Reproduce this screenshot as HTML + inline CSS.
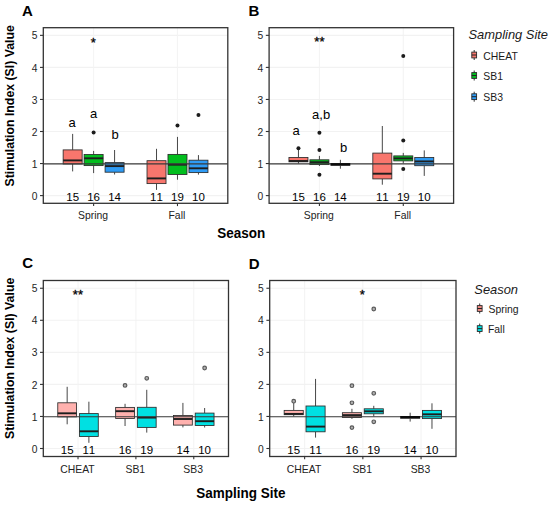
<!DOCTYPE html>
<html><head><meta charset="utf-8"><style>
html,body{margin:0;padding:0;background:#fff;}
svg{display:block;}
text{font-family:"Liberation Sans", sans-serif;}
.tk{font-size:10.4px;fill:#222;}
.tky{font-size:10.3px;fill:#262626;}
.num{font-size:11.5px;fill:#000;font-kerning:none;font-feature-settings:'kern' 0;}
.let{font-size:13px;fill:#000;}
.star{font-size:13px;fill:#000;stroke:#000;stroke-width:0.3px;}
.tag{font-size:15px;font-weight:bold;fill:#000;}
.ttl{font-size:13.5px;font-weight:bold;fill:#000;}
.ytl{font-size:12.3px;font-weight:bold;fill:#000;}
.lgt{font-size:12.9px;font-style:italic;fill:#1a1a1a;}
.lg{font-size:10.4px;fill:#1a1a1a;}
</style></head><body>
<svg width="550" height="505" viewBox="0 0 550 505">
<rect width="550" height="505" fill="#fff"/>
<line x1="43.3" y1="195.60" x2="227.8" y2="195.60" stroke="#F2F2F2" stroke-width="1.1"/>
<line x1="43.3" y1="163.55" x2="227.8" y2="163.55" stroke="#F2F2F2" stroke-width="1.1"/>
<line x1="43.3" y1="131.50" x2="227.8" y2="131.50" stroke="#F2F2F2" stroke-width="1.1"/>
<line x1="43.3" y1="99.45" x2="227.8" y2="99.45" stroke="#F2F2F2" stroke-width="1.1"/>
<line x1="43.3" y1="67.40" x2="227.8" y2="67.40" stroke="#F2F2F2" stroke-width="1.1"/>
<line x1="43.3" y1="35.35" x2="227.8" y2="35.35" stroke="#F2F2F2" stroke-width="1.1"/>
<line x1="93.62" y1="27.7" x2="93.62" y2="203.3" stroke="#F2F2F2" stroke-width="0.9"/>
<line x1="177.48" y1="27.7" x2="177.48" y2="203.3" stroke="#F2F2F2" stroke-width="0.9"/>
<line x1="72.65" y1="133.90" x2="72.65" y2="149.90" stroke="#474747" stroke-width="1"/>
<line x1="72.65" y1="164.00" x2="72.65" y2="171.40" stroke="#474747" stroke-width="1"/>
<rect x="63.15" y="149.90" width="19.00" height="14.10" fill="#F8766D" stroke="#2b2b2b" stroke-width="0.85"/>
<line x1="63.15" y1="160.40" x2="82.15" y2="160.40" stroke="#1e1e1e" stroke-width="1.9"/>
<line x1="93.62" y1="150.90" x2="93.62" y2="154.50" stroke="#474747" stroke-width="1"/>
<line x1="93.62" y1="165.60" x2="93.62" y2="173.10" stroke="#474747" stroke-width="1"/>
<rect x="84.12" y="154.50" width="19.00" height="11.10" fill="#02BE1E" stroke="#2b2b2b" stroke-width="0.85"/>
<line x1="84.12" y1="158.30" x2="103.12" y2="158.30" stroke="#1e1e1e" stroke-width="1.9"/>
<circle cx="93.62" cy="132.50" r="2.0" fill="#1c1c1c"/>
<line x1="114.58" y1="150.00" x2="114.58" y2="162.60" stroke="#474747" stroke-width="1"/>
<line x1="114.58" y1="172.20" x2="114.58" y2="174.50" stroke="#474747" stroke-width="1"/>
<rect x="105.08" y="162.60" width="19.00" height="9.60" fill="#2E9BF5" stroke="#2b2b2b" stroke-width="0.85"/>
<line x1="105.08" y1="166.10" x2="124.08" y2="166.10" stroke="#1e1e1e" stroke-width="1.9"/>
<line x1="156.52" y1="148.80" x2="156.52" y2="160.70" stroke="#474747" stroke-width="1"/>
<line x1="156.52" y1="183.60" x2="156.52" y2="189.90" stroke="#474747" stroke-width="1"/>
<rect x="147.02" y="160.70" width="19.00" height="22.90" fill="#F8766D" stroke="#2b2b2b" stroke-width="0.85"/>
<line x1="147.02" y1="178.40" x2="166.02" y2="178.40" stroke="#1e1e1e" stroke-width="1.9"/>
<line x1="177.48" y1="136.90" x2="177.48" y2="154.40" stroke="#474747" stroke-width="1"/>
<line x1="177.48" y1="174.50" x2="177.48" y2="179.70" stroke="#474747" stroke-width="1"/>
<rect x="167.98" y="154.40" width="19.00" height="20.10" fill="#02BE1E" stroke="#2b2b2b" stroke-width="0.85"/>
<line x1="167.98" y1="164.70" x2="186.98" y2="164.70" stroke="#1e1e1e" stroke-width="1.9"/>
<circle cx="177.48" cy="125.40" r="2.0" fill="#1c1c1c"/>
<line x1="198.45" y1="155.10" x2="198.45" y2="160.20" stroke="#474747" stroke-width="1"/>
<line x1="198.45" y1="172.60" x2="198.45" y2="174.60" stroke="#474747" stroke-width="1"/>
<rect x="188.95" y="160.20" width="19.00" height="12.40" fill="#2E9BF5" stroke="#2b2b2b" stroke-width="0.85"/>
<line x1="188.95" y1="168.30" x2="207.95" y2="168.30" stroke="#1e1e1e" stroke-width="1.9"/>
<circle cx="198.45" cy="115.10" r="2.0" fill="#1c1c1c"/>
<line x1="43.3" y1="163.90" x2="227.8" y2="163.90" stroke="#3a3a3a" stroke-width="1.1"/>
<rect x="43.3" y="27.7" width="184.50" height="175.60" fill="none" stroke="#333333" stroke-width="1.3"/>
<line x1="40.00" y1="195.60" x2="43.3" y2="195.60" stroke="#333333" stroke-width="1.1"/>
<text transform="translate(37.40,199.70) scale(1,1.12)" class="tky" text-anchor="end">0</text>
<line x1="40.00" y1="163.55" x2="43.3" y2="163.55" stroke="#333333" stroke-width="1.1"/>
<text transform="translate(37.40,167.65) scale(1,1.12)" class="tky" text-anchor="end">1</text>
<line x1="40.00" y1="131.50" x2="43.3" y2="131.50" stroke="#333333" stroke-width="1.1"/>
<text transform="translate(37.40,135.60) scale(1,1.12)" class="tky" text-anchor="end">2</text>
<line x1="40.00" y1="99.45" x2="43.3" y2="99.45" stroke="#333333" stroke-width="1.1"/>
<text transform="translate(37.40,103.55) scale(1,1.12)" class="tky" text-anchor="end">3</text>
<line x1="40.00" y1="67.40" x2="43.3" y2="67.40" stroke="#333333" stroke-width="1.1"/>
<text transform="translate(37.40,71.50) scale(1,1.12)" class="tky" text-anchor="end">4</text>
<line x1="40.00" y1="35.35" x2="43.3" y2="35.35" stroke="#333333" stroke-width="1.1"/>
<text transform="translate(37.40,39.45) scale(1,1.12)" class="tky" text-anchor="end">5</text>
<line x1="93.62" y1="203.3" x2="93.62" y2="206.10" stroke="#333333" stroke-width="1.1"/>
<text transform="translate(93.02,219.40) scale(1,1.05)" class="tk" text-anchor="middle">Spring</text>
<line x1="177.48" y1="203.3" x2="177.48" y2="206.10" stroke="#333333" stroke-width="1.1"/>
<text transform="translate(176.88,219.40) scale(1,1.05)" class="tk" text-anchor="middle">Fall</text>
<line x1="269.1" y1="195.60" x2="453.6" y2="195.60" stroke="#F2F2F2" stroke-width="1.1"/>
<line x1="269.1" y1="163.55" x2="453.6" y2="163.55" stroke="#F2F2F2" stroke-width="1.1"/>
<line x1="269.1" y1="131.50" x2="453.6" y2="131.50" stroke="#F2F2F2" stroke-width="1.1"/>
<line x1="269.1" y1="99.45" x2="453.6" y2="99.45" stroke="#F2F2F2" stroke-width="1.1"/>
<line x1="269.1" y1="67.40" x2="453.6" y2="67.40" stroke="#F2F2F2" stroke-width="1.1"/>
<line x1="269.1" y1="35.35" x2="453.6" y2="35.35" stroke="#F2F2F2" stroke-width="1.1"/>
<line x1="319.42" y1="27.7" x2="319.42" y2="203.3" stroke="#F2F2F2" stroke-width="0.9"/>
<line x1="403.28" y1="27.7" x2="403.28" y2="203.3" stroke="#F2F2F2" stroke-width="0.9"/>
<line x1="298.45" y1="149.00" x2="298.45" y2="157.50" stroke="#474747" stroke-width="1"/>
<line x1="298.45" y1="161.80" x2="298.45" y2="163.50" stroke="#474747" stroke-width="1"/>
<rect x="288.95" y="157.50" width="19.00" height="4.30" fill="#F8766D" stroke="#2b2b2b" stroke-width="0.85"/>
<line x1="288.95" y1="161.00" x2="307.95" y2="161.00" stroke="#1e1e1e" stroke-width="1.9"/>
<circle cx="298.45" cy="148.30" r="2.0" fill="#1c1c1c"/>
<line x1="319.42" y1="155.90" x2="319.42" y2="159.80" stroke="#474747" stroke-width="1"/>
<line x1="319.42" y1="164.60" x2="319.42" y2="166.00" stroke="#474747" stroke-width="1"/>
<rect x="309.92" y="159.80" width="19.00" height="4.80" fill="#02BE1E" stroke="#2b2b2b" stroke-width="0.85"/>
<line x1="309.92" y1="162.20" x2="328.92" y2="162.20" stroke="#1e1e1e" stroke-width="1.9"/>
<circle cx="319.42" cy="132.80" r="2.0" fill="#1c1c1c"/>
<circle cx="319.42" cy="149.90" r="2.0" fill="#1c1c1c"/>
<circle cx="319.42" cy="174.70" r="2.0" fill="#1c1c1c"/>
<line x1="340.38" y1="159.80" x2="340.38" y2="163.10" stroke="#474747" stroke-width="1"/>
<line x1="340.38" y1="165.80" x2="340.38" y2="168.70" stroke="#474747" stroke-width="1"/>
<line x1="382.32" y1="126.00" x2="382.32" y2="153.10" stroke="#474747" stroke-width="1"/>
<line x1="382.32" y1="178.90" x2="382.32" y2="184.70" stroke="#474747" stroke-width="1"/>
<rect x="372.82" y="153.10" width="19.00" height="25.80" fill="#F8766D" stroke="#2b2b2b" stroke-width="0.85"/>
<line x1="372.82" y1="173.70" x2="391.82" y2="173.70" stroke="#1e1e1e" stroke-width="1.9"/>
<line x1="403.28" y1="152.90" x2="403.28" y2="155.90" stroke="#474747" stroke-width="1"/>
<line x1="403.28" y1="160.90" x2="403.28" y2="163.50" stroke="#474747" stroke-width="1"/>
<rect x="393.78" y="155.90" width="19.00" height="5.00" fill="#02BE1E" stroke="#2b2b2b" stroke-width="0.85"/>
<line x1="393.78" y1="158.40" x2="412.78" y2="158.40" stroke="#1e1e1e" stroke-width="1.9"/>
<circle cx="403.28" cy="56.10" r="2.0" fill="#1c1c1c"/>
<circle cx="403.28" cy="140.40" r="2.0" fill="#1c1c1c"/>
<circle cx="403.28" cy="168.90" r="2.0" fill="#1c1c1c"/>
<line x1="424.25" y1="150.40" x2="424.25" y2="157.50" stroke="#474747" stroke-width="1"/>
<line x1="424.25" y1="165.70" x2="424.25" y2="175.90" stroke="#474747" stroke-width="1"/>
<rect x="414.75" y="157.50" width="19.00" height="8.20" fill="#2E9BF5" stroke="#2b2b2b" stroke-width="0.85"/>
<line x1="414.75" y1="161.40" x2="433.75" y2="161.40" stroke="#1e1e1e" stroke-width="1.9"/>
<line x1="269.1" y1="163.90" x2="453.6" y2="163.90" stroke="#3a3a3a" stroke-width="1.1"/>
<rect x="330.48" y="163.10" width="19.80" height="2.70" fill="#0a0a0a"/>
<rect x="269.1" y="27.7" width="184.50" height="175.60" fill="none" stroke="#333333" stroke-width="1.3"/>
<line x1="265.80" y1="195.60" x2="269.1" y2="195.60" stroke="#333333" stroke-width="1.1"/>
<text transform="translate(263.20,199.70) scale(1,1.12)" class="tky" text-anchor="end">0</text>
<line x1="265.80" y1="163.55" x2="269.1" y2="163.55" stroke="#333333" stroke-width="1.1"/>
<text transform="translate(263.20,167.65) scale(1,1.12)" class="tky" text-anchor="end">1</text>
<line x1="265.80" y1="131.50" x2="269.1" y2="131.50" stroke="#333333" stroke-width="1.1"/>
<text transform="translate(263.20,135.60) scale(1,1.12)" class="tky" text-anchor="end">2</text>
<line x1="265.80" y1="99.45" x2="269.1" y2="99.45" stroke="#333333" stroke-width="1.1"/>
<text transform="translate(263.20,103.55) scale(1,1.12)" class="tky" text-anchor="end">3</text>
<line x1="265.80" y1="67.40" x2="269.1" y2="67.40" stroke="#333333" stroke-width="1.1"/>
<text transform="translate(263.20,71.50) scale(1,1.12)" class="tky" text-anchor="end">4</text>
<line x1="265.80" y1="35.35" x2="269.1" y2="35.35" stroke="#333333" stroke-width="1.1"/>
<text transform="translate(263.20,39.45) scale(1,1.12)" class="tky" text-anchor="end">5</text>
<line x1="319.42" y1="203.3" x2="319.42" y2="206.10" stroke="#333333" stroke-width="1.1"/>
<text transform="translate(318.82,219.40) scale(1,1.05)" class="tk" text-anchor="middle">Spring</text>
<line x1="403.28" y1="203.3" x2="403.28" y2="206.10" stroke="#333333" stroke-width="1.1"/>
<text transform="translate(402.68,219.40) scale(1,1.05)" class="tk" text-anchor="middle">Fall</text>
<line x1="43.3" y1="448.50" x2="228.5" y2="448.50" stroke="#F2F2F2" stroke-width="1.1"/>
<line x1="43.3" y1="416.45" x2="228.5" y2="416.45" stroke="#F2F2F2" stroke-width="1.1"/>
<line x1="43.3" y1="384.40" x2="228.5" y2="384.40" stroke="#F2F2F2" stroke-width="1.1"/>
<line x1="43.3" y1="352.35" x2="228.5" y2="352.35" stroke="#F2F2F2" stroke-width="1.1"/>
<line x1="43.3" y1="320.30" x2="228.5" y2="320.30" stroke="#F2F2F2" stroke-width="1.1"/>
<line x1="43.3" y1="288.25" x2="228.5" y2="288.25" stroke="#F2F2F2" stroke-width="1.1"/>
<line x1="78.02" y1="280.5" x2="78.02" y2="456.5" stroke="#F2F2F2" stroke-width="0.9"/>
<line x1="135.90" y1="280.5" x2="135.90" y2="456.5" stroke="#F2F2F2" stroke-width="0.9"/>
<line x1="193.77" y1="280.5" x2="193.77" y2="456.5" stroke="#F2F2F2" stroke-width="0.9"/>
<line x1="67.17" y1="386.80" x2="67.17" y2="402.80" stroke="#474747" stroke-width="1"/>
<line x1="67.17" y1="416.90" x2="67.17" y2="424.30" stroke="#474747" stroke-width="1"/>
<rect x="57.77" y="402.80" width="18.80" height="14.10" fill="#FFB1AE" stroke="#2b2b2b" stroke-width="0.85"/>
<line x1="57.77" y1="413.30" x2="76.57" y2="413.30" stroke="#1e1e1e" stroke-width="1.9"/>
<line x1="88.88" y1="401.70" x2="88.88" y2="413.60" stroke="#474747" stroke-width="1"/>
<line x1="88.88" y1="436.50" x2="88.88" y2="442.80" stroke="#474747" stroke-width="1"/>
<rect x="79.48" y="413.60" width="18.80" height="22.90" fill="#00E0E2" stroke="#2b2b2b" stroke-width="0.85"/>
<line x1="79.48" y1="431.30" x2="98.28" y2="431.30" stroke="#1e1e1e" stroke-width="1.9"/>
<line x1="125.05" y1="403.80" x2="125.05" y2="407.40" stroke="#474747" stroke-width="1"/>
<line x1="125.05" y1="418.50" x2="125.05" y2="426.00" stroke="#474747" stroke-width="1"/>
<rect x="115.65" y="407.40" width="18.80" height="11.10" fill="#FFB1AE" stroke="#2b2b2b" stroke-width="0.85"/>
<line x1="115.65" y1="411.20" x2="134.45" y2="411.20" stroke="#1e1e1e" stroke-width="1.9"/>
<circle cx="125.05" cy="385.40" r="1.8" fill="#b0b0b0" stroke="#5a5a5a" stroke-width="1.2"/>
<line x1="146.75" y1="389.80" x2="146.75" y2="407.30" stroke="#474747" stroke-width="1"/>
<line x1="146.75" y1="427.40" x2="146.75" y2="432.60" stroke="#474747" stroke-width="1"/>
<rect x="137.35" y="407.30" width="18.80" height="20.10" fill="#00E0E2" stroke="#2b2b2b" stroke-width="0.85"/>
<line x1="137.35" y1="417.60" x2="156.15" y2="417.60" stroke="#1e1e1e" stroke-width="1.9"/>
<circle cx="146.75" cy="378.30" r="1.8" fill="#b0b0b0" stroke="#5a5a5a" stroke-width="1.2"/>
<line x1="182.92" y1="402.90" x2="182.92" y2="415.50" stroke="#474747" stroke-width="1"/>
<line x1="182.92" y1="425.10" x2="182.92" y2="427.40" stroke="#474747" stroke-width="1"/>
<rect x="173.52" y="415.50" width="18.80" height="9.60" fill="#FFB1AE" stroke="#2b2b2b" stroke-width="0.85"/>
<line x1="173.52" y1="419.00" x2="192.32" y2="419.00" stroke="#1e1e1e" stroke-width="1.9"/>
<line x1="204.63" y1="408.00" x2="204.63" y2="413.10" stroke="#474747" stroke-width="1"/>
<line x1="204.63" y1="425.50" x2="204.63" y2="427.50" stroke="#474747" stroke-width="1"/>
<rect x="195.23" y="413.10" width="18.80" height="12.40" fill="#00E0E2" stroke="#2b2b2b" stroke-width="0.85"/>
<line x1="195.23" y1="421.20" x2="214.03" y2="421.20" stroke="#1e1e1e" stroke-width="1.9"/>
<circle cx="204.63" cy="368.00" r="1.8" fill="#b0b0b0" stroke="#5a5a5a" stroke-width="1.2"/>
<line x1="43.3" y1="416.80" x2="228.5" y2="416.80" stroke="#3a3a3a" stroke-width="1.1"/>
<rect x="43.3" y="280.5" width="185.20" height="176.00" fill="none" stroke="#333333" stroke-width="1.3"/>
<line x1="40.00" y1="448.50" x2="43.3" y2="448.50" stroke="#333333" stroke-width="1.1"/>
<text transform="translate(37.40,452.60) scale(1,1.12)" class="tky" text-anchor="end">0</text>
<line x1="40.00" y1="416.45" x2="43.3" y2="416.45" stroke="#333333" stroke-width="1.1"/>
<text transform="translate(37.40,420.55) scale(1,1.12)" class="tky" text-anchor="end">1</text>
<line x1="40.00" y1="384.40" x2="43.3" y2="384.40" stroke="#333333" stroke-width="1.1"/>
<text transform="translate(37.40,388.50) scale(1,1.12)" class="tky" text-anchor="end">2</text>
<line x1="40.00" y1="352.35" x2="43.3" y2="352.35" stroke="#333333" stroke-width="1.1"/>
<text transform="translate(37.40,356.45) scale(1,1.12)" class="tky" text-anchor="end">3</text>
<line x1="40.00" y1="320.30" x2="43.3" y2="320.30" stroke="#333333" stroke-width="1.1"/>
<text transform="translate(37.40,324.40) scale(1,1.12)" class="tky" text-anchor="end">4</text>
<line x1="40.00" y1="288.25" x2="43.3" y2="288.25" stroke="#333333" stroke-width="1.1"/>
<text transform="translate(37.40,292.35) scale(1,1.12)" class="tky" text-anchor="end">5</text>
<line x1="78.02" y1="456.5" x2="78.02" y2="459.30" stroke="#333333" stroke-width="1.1"/>
<text transform="translate(77.42,472.60) scale(1,1.05)" class="tk" text-anchor="middle">CHEAT</text>
<line x1="135.90" y1="456.5" x2="135.90" y2="459.30" stroke="#333333" stroke-width="1.1"/>
<text transform="translate(135.30,472.60) scale(1,1.05)" class="tk" text-anchor="middle">SB1</text>
<line x1="193.77" y1="456.5" x2="193.77" y2="459.30" stroke="#333333" stroke-width="1.1"/>
<text transform="translate(193.17,472.60) scale(1,1.05)" class="tk" text-anchor="middle">SB3</text>
<line x1="269.7" y1="448.50" x2="456.0" y2="448.50" stroke="#F2F2F2" stroke-width="1.1"/>
<line x1="269.7" y1="416.45" x2="456.0" y2="416.45" stroke="#F2F2F2" stroke-width="1.1"/>
<line x1="269.7" y1="384.40" x2="456.0" y2="384.40" stroke="#F2F2F2" stroke-width="1.1"/>
<line x1="269.7" y1="352.35" x2="456.0" y2="352.35" stroke="#F2F2F2" stroke-width="1.1"/>
<line x1="269.7" y1="320.30" x2="456.0" y2="320.30" stroke="#F2F2F2" stroke-width="1.1"/>
<line x1="269.7" y1="288.25" x2="456.0" y2="288.25" stroke="#F2F2F2" stroke-width="1.1"/>
<line x1="304.63" y1="280.5" x2="304.63" y2="456.5" stroke="#F2F2F2" stroke-width="0.9"/>
<line x1="362.85" y1="280.5" x2="362.85" y2="456.5" stroke="#F2F2F2" stroke-width="0.9"/>
<line x1="421.07" y1="280.5" x2="421.07" y2="456.5" stroke="#F2F2F2" stroke-width="0.9"/>
<line x1="293.72" y1="401.90" x2="293.72" y2="410.40" stroke="#474747" stroke-width="1"/>
<line x1="293.72" y1="414.70" x2="293.72" y2="416.40" stroke="#474747" stroke-width="1"/>
<rect x="284.17" y="410.40" width="19.10" height="4.30" fill="#FFB1AE" stroke="#2b2b2b" stroke-width="0.85"/>
<line x1="284.17" y1="413.90" x2="303.27" y2="413.90" stroke="#1e1e1e" stroke-width="1.9"/>
<circle cx="293.72" cy="401.20" r="1.8" fill="#b0b0b0" stroke="#5a5a5a" stroke-width="1.2"/>
<line x1="315.55" y1="378.90" x2="315.55" y2="406.00" stroke="#474747" stroke-width="1"/>
<line x1="315.55" y1="431.80" x2="315.55" y2="437.60" stroke="#474747" stroke-width="1"/>
<rect x="306.00" y="406.00" width="19.10" height="25.80" fill="#00E0E2" stroke="#2b2b2b" stroke-width="0.85"/>
<line x1="306.00" y1="426.60" x2="325.10" y2="426.60" stroke="#1e1e1e" stroke-width="1.9"/>
<line x1="351.93" y1="408.80" x2="351.93" y2="412.70" stroke="#474747" stroke-width="1"/>
<line x1="351.93" y1="417.50" x2="351.93" y2="418.90" stroke="#474747" stroke-width="1"/>
<rect x="342.38" y="412.70" width="19.10" height="4.80" fill="#FFB1AE" stroke="#2b2b2b" stroke-width="0.85"/>
<line x1="342.38" y1="415.10" x2="361.48" y2="415.10" stroke="#1e1e1e" stroke-width="1.9"/>
<circle cx="351.93" cy="385.70" r="1.8" fill="#b0b0b0" stroke="#5a5a5a" stroke-width="1.2"/>
<circle cx="351.93" cy="402.80" r="1.8" fill="#b0b0b0" stroke="#5a5a5a" stroke-width="1.2"/>
<circle cx="351.93" cy="427.60" r="1.8" fill="#b0b0b0" stroke="#5a5a5a" stroke-width="1.2"/>
<line x1="373.77" y1="405.80" x2="373.77" y2="408.80" stroke="#474747" stroke-width="1"/>
<line x1="373.77" y1="413.80" x2="373.77" y2="416.40" stroke="#474747" stroke-width="1"/>
<rect x="364.22" y="408.80" width="19.10" height="5.00" fill="#00E0E2" stroke="#2b2b2b" stroke-width="0.85"/>
<line x1="364.22" y1="411.30" x2="383.32" y2="411.30" stroke="#1e1e1e" stroke-width="1.9"/>
<circle cx="373.77" cy="309.00" r="1.8" fill="#b0b0b0" stroke="#5a5a5a" stroke-width="1.2"/>
<circle cx="373.77" cy="393.30" r="1.8" fill="#b0b0b0" stroke="#5a5a5a" stroke-width="1.2"/>
<circle cx="373.77" cy="421.80" r="1.8" fill="#b0b0b0" stroke="#5a5a5a" stroke-width="1.2"/>
<line x1="410.15" y1="412.70" x2="410.15" y2="416.00" stroke="#474747" stroke-width="1"/>
<line x1="410.15" y1="418.70" x2="410.15" y2="421.60" stroke="#474747" stroke-width="1"/>
<line x1="431.98" y1="403.30" x2="431.98" y2="410.40" stroke="#474747" stroke-width="1"/>
<line x1="431.98" y1="418.60" x2="431.98" y2="428.80" stroke="#474747" stroke-width="1"/>
<rect x="422.43" y="410.40" width="19.10" height="8.20" fill="#00E0E2" stroke="#2b2b2b" stroke-width="0.85"/>
<line x1="422.43" y1="414.30" x2="441.53" y2="414.30" stroke="#1e1e1e" stroke-width="1.9"/>
<line x1="269.7" y1="416.80" x2="456.0" y2="416.80" stroke="#3a3a3a" stroke-width="1.1"/>
<rect x="400.20" y="416.00" width="19.90" height="2.70" fill="#0a0a0a"/>
<rect x="269.7" y="280.5" width="186.30" height="176.00" fill="none" stroke="#333333" stroke-width="1.3"/>
<line x1="266.40" y1="448.50" x2="269.7" y2="448.50" stroke="#333333" stroke-width="1.1"/>
<text transform="translate(263.80,452.60) scale(1,1.12)" class="tky" text-anchor="end">0</text>
<line x1="266.40" y1="416.45" x2="269.7" y2="416.45" stroke="#333333" stroke-width="1.1"/>
<text transform="translate(263.80,420.55) scale(1,1.12)" class="tky" text-anchor="end">1</text>
<line x1="266.40" y1="384.40" x2="269.7" y2="384.40" stroke="#333333" stroke-width="1.1"/>
<text transform="translate(263.80,388.50) scale(1,1.12)" class="tky" text-anchor="end">2</text>
<line x1="266.40" y1="352.35" x2="269.7" y2="352.35" stroke="#333333" stroke-width="1.1"/>
<text transform="translate(263.80,356.45) scale(1,1.12)" class="tky" text-anchor="end">3</text>
<line x1="266.40" y1="320.30" x2="269.7" y2="320.30" stroke="#333333" stroke-width="1.1"/>
<text transform="translate(263.80,324.40) scale(1,1.12)" class="tky" text-anchor="end">4</text>
<line x1="266.40" y1="288.25" x2="269.7" y2="288.25" stroke="#333333" stroke-width="1.1"/>
<text transform="translate(263.80,292.35) scale(1,1.12)" class="tky" text-anchor="end">5</text>
<line x1="304.63" y1="456.5" x2="304.63" y2="459.30" stroke="#333333" stroke-width="1.1"/>
<text transform="translate(304.03,472.60) scale(1,1.05)" class="tk" text-anchor="middle">CHEAT</text>
<line x1="362.85" y1="456.5" x2="362.85" y2="459.30" stroke="#333333" stroke-width="1.1"/>
<text transform="translate(362.25,472.60) scale(1,1.05)" class="tk" text-anchor="middle">SB1</text>
<line x1="421.07" y1="456.5" x2="421.07" y2="459.30" stroke="#333333" stroke-width="1.1"/>
<text transform="translate(420.47,472.60) scale(1,1.05)" class="tk" text-anchor="middle">SB3</text>
<line x1="474.2" y1="50.0" x2="474.2" y2="60.0" stroke="#333" stroke-width="1"/>
<rect x="471.8" y="52.1" width="4.8" height="5.8" fill="#F8766D" stroke="#2b2b2b" stroke-width="0.9"/>
<line x1="471.8" y1="55.0" x2="476.59999999999997" y2="55.0" stroke="#222" stroke-width="1"/>
<line x1="474.2" y1="70.5" x2="474.2" y2="80.5" stroke="#333" stroke-width="1"/>
<rect x="471.8" y="72.6" width="4.8" height="5.8" fill="#02BE1E" stroke="#2b2b2b" stroke-width="0.9"/>
<line x1="471.8" y1="75.5" x2="476.59999999999997" y2="75.5" stroke="#222" stroke-width="1"/>
<line x1="474.2" y1="91.7" x2="474.2" y2="101.7" stroke="#333" stroke-width="1"/>
<rect x="471.8" y="93.8" width="4.8" height="5.8" fill="#2E9BF5" stroke="#2b2b2b" stroke-width="0.9"/>
<line x1="471.8" y1="96.7" x2="476.59999999999997" y2="96.7" stroke="#222" stroke-width="1"/>
<line x1="479.7" y1="303.5" x2="479.7" y2="313.5" stroke="#333" stroke-width="1"/>
<rect x="477.3" y="305.6" width="4.8" height="5.8" fill="#F08A82" stroke="#2b2b2b" stroke-width="0.9"/>
<line x1="477.3" y1="308.5" x2="482.09999999999997" y2="308.5" stroke="#222" stroke-width="1"/>
<line x1="479.7" y1="323.6" x2="479.7" y2="333.6" stroke="#333" stroke-width="1"/>
<rect x="477.3" y="325.70000000000005" width="4.8" height="5.8" fill="#00E0E2" stroke="#2b2b2b" stroke-width="0.9"/>
<line x1="477.3" y1="328.6" x2="482.09999999999997" y2="328.6" stroke="#222" stroke-width="1"/>
<text x="72.65" y="200.50" class="num" text-anchor="middle" >15</text>
<text x="93.62" y="200.50" class="num" text-anchor="middle" >16</text>
<text x="114.58" y="200.50" class="num" text-anchor="middle" >14</text>
<text x="156.52" y="200.50" class="num" text-anchor="middle" >11</text>
<text x="177.48" y="200.50" class="num" text-anchor="middle" >19</text>
<text x="198.45" y="200.50" class="num" text-anchor="middle" >10</text>
<text x="298.45" y="200.50" class="num" text-anchor="middle" >15</text>
<text x="319.42" y="200.50" class="num" text-anchor="middle" >16</text>
<text x="340.38" y="200.50" class="num" text-anchor="middle" >14</text>
<text x="382.32" y="200.50" class="num" text-anchor="middle" >11</text>
<text x="403.28" y="200.50" class="num" text-anchor="middle" >19</text>
<text x="424.25" y="200.50" class="num" text-anchor="middle" >10</text>
<text x="67.17" y="453.90" class="num" text-anchor="middle" >15</text>
<text x="88.88" y="453.90" class="num" text-anchor="middle" >11</text>
<text x="125.05" y="453.90" class="num" text-anchor="middle" >16</text>
<text x="146.75" y="453.90" class="num" text-anchor="middle" >19</text>
<text x="182.92" y="453.90" class="num" text-anchor="middle" >14</text>
<text x="204.63" y="453.90" class="num" text-anchor="middle" >10</text>
<text x="293.72" y="453.90" class="num" text-anchor="middle" >15</text>
<text x="315.55" y="453.90" class="num" text-anchor="middle" >11</text>
<text x="351.93" y="453.90" class="num" text-anchor="middle" >16</text>
<text x="373.77" y="453.90" class="num" text-anchor="middle" >19</text>
<text x="410.15" y="453.90" class="num" text-anchor="middle" >14</text>
<text x="431.98" y="453.90" class="num" text-anchor="middle" >10</text>
<text x="72.20" y="126.70" class="let" text-anchor="middle" >a</text>
<text x="93.70" y="118.10" class="let" text-anchor="middle" >a</text>
<text x="115.10" y="138.80" class="let" text-anchor="middle" >b</text>
<text x="296.20" y="134.80" class="let" text-anchor="middle" >a</text>
<text x="321.10" y="118.60" class="let" text-anchor="middle" >a,b</text>
<text x="343.50" y="152.30" class="let" text-anchor="middle" >b</text>
<text x="93.20" y="46.50" class="star" text-anchor="middle" >*</text>
<text x="319.40" y="46.10" class="star" text-anchor="middle" >**</text>
<text x="77.90" y="298.90" class="star" text-anchor="middle" >**</text>
<text x="362.40" y="298.60" class="star" text-anchor="middle" >*</text>
<text x="22.10" y="15.80" class="tag" text-anchor="start" >A</text>
<text x="248.40" y="15.80" class="tag" text-anchor="start" >B</text>
<text x="22.20" y="268.30" class="tag" text-anchor="start" >C</text>
<text x="248.70" y="268.60" class="tag" text-anchor="start" >D</text>
<text transform="translate(241.20,237.60) scale(1,1.03)" class="ttl" text-anchor="middle" >Season</text>
<text transform="translate(240.90,497.60) scale(1,1.03)" class="ttl" text-anchor="middle" >Sampling Site</text>
<text class="ytl" text-anchor="middle" transform="translate(13.6,105.8) rotate(-90)">Stimulation Index (SI) Value</text>
<text class="ytl" text-anchor="middle" transform="translate(13.6,358.4) rotate(-90)">Stimulation Index (SI) Value</text>
<text x="468.50" y="38.70" class="lgt" text-anchor="start" >Sampling Site</text>
<text transform="translate(483.30,59.60) scale(1,1.03)" class="lg" text-anchor="start" >CHEAT</text>
<text transform="translate(483.30,79.70) scale(1,1.03)" class="lg" text-anchor="start" >SB1</text>
<text transform="translate(483.30,101.10) scale(1,1.03)" class="lg" text-anchor="start" >SB3</text>
<text x="474.30" y="293.80" class="lgt" text-anchor="start" >Season</text>
<text transform="translate(488.60,313.00) scale(1,1.03)" class="lg" text-anchor="start" >Spring</text>
<text transform="translate(488.00,333.10) scale(1,1.03)" class="lg" text-anchor="start" >Fall</text>
</svg>
</body></html>
